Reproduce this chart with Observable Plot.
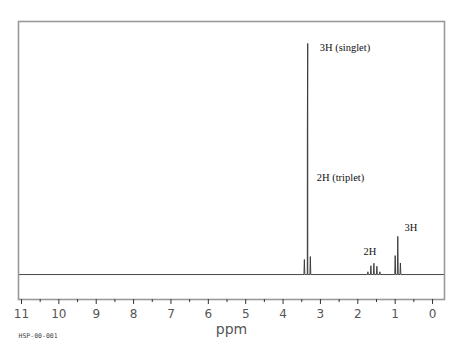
<!DOCTYPE html>
<html>
<head>
<meta charset="utf-8">
<script src="https://cdn.jsdelivr.net/npm/d3@7"></script>
<script src="https://cdn.jsdelivr.net/npm/@observablehq/plot@0.6"></script>
<style>
  html, body { margin: 0; padding: 0; background: #fff; }
</style>
</head>
<body>
<div id="chart"></div>
<script>
// Peak positions (ppm) and relative intensities
const peakPpm    = [3.43, 3.35, 3.34, 3.27, 1.73, 1.65, 1.57, 1.49, 1.41, 1.00, 0.93, 0.86];
const peakHeight = [6.5,  62,   100,  7.8,  1.2,  3.8,  4.9,  3.6,  1.2,  8.2,  16.5, 5.0];

// Annotation labels
const labelText = ["3H (singlet)", "2H (triplet)", "2H", "3H"];
const labelPpm  = [3.02, 3.10, 1.85, 0.75];
const labelInt  = [98.3, 42, 10, 20.3];

// Axis ticks
const majorTicks = [11, 10, 9, 8, 7, 6, 5, 4, 3, 2, 1, 0];
const minorTicks = [10.5, 9.5, 8.5, 7.5, 6.5, 5.5, 4.5, 3.5, 2.5, 1.5, 0.5];

const xDomain = [11.08, -0.32];
const yDomain = [-10.8, 109.5];

// Build the spectrum line: flat baseline with narrow spikes at each peak
const w = 0.012;
const pts = [{ppm: xDomain[0], v: 0}];
peakPpm.forEach((p, i) => {
  pts.push({ppm: p + w, v: 0});
  pts.push({ppm: p, v: peakHeight[i]});
  pts.push({ppm: p - w, v: 0});
});
pts.push({ppm: xDomain[1], v: 0});
pts.sort((a, b) => b.ppm - a.ppm);

const labels = labelText.map((t, i) => ({t, ppm: labelPpm[i], v: labelInt[i]}));

const chart = Plot.plot({
  width: 474,
  height: 351,
  marginLeft: 18,
  marginRight: 30,
  marginTop: 21,
  marginBottom: 52,
  style: {background: "#fff", overflow: "visible"},
  x: {domain: xDomain},
  y: {domain: yDomain, axis: null},
  marks: [
    Plot.line(pts, {x: "ppm", y: "v", stroke: "#333", strokeWidth: 0.9}),
    Plot.frame({stroke: "#999", strokeWidth: 1.6}),
    Plot.text(labels, {x: "ppm", y: "v", text: "t", textAnchor: "start",
      fontFamily: "Liberation Serif", fontSize: 10.5, fill: "#111"}),
    Plot.axisX(majorTicks, {tickSize: 5, tickPadding: 5, stroke: "#333",
      fontSize: 12, fontFamily: "DejaVu Sans", fill: "#555",
      tickFormat: d => String(d), label: null}),
    Plot.axisX(minorTicks, {tickSize: 3, stroke: "#333", tickFormat: () => "", label: null}),
    Plot.text(["ppm"], {frameAnchor: "bottom", dy: 34, fontSize: 14,
      fontFamily: "DejaVu Sans", fill: "#555"}),
    Plot.text(["HSP-00-001"], {frameAnchor: "bottom-left", textAnchor: "start", dy: 38,
      fontSize: 6.5, fontFamily: "DejaVu Sans Mono", fill: "#444"})
  ]
});
document.getElementById("chart").appendChild(chart);
</script>
</body>
</html>
